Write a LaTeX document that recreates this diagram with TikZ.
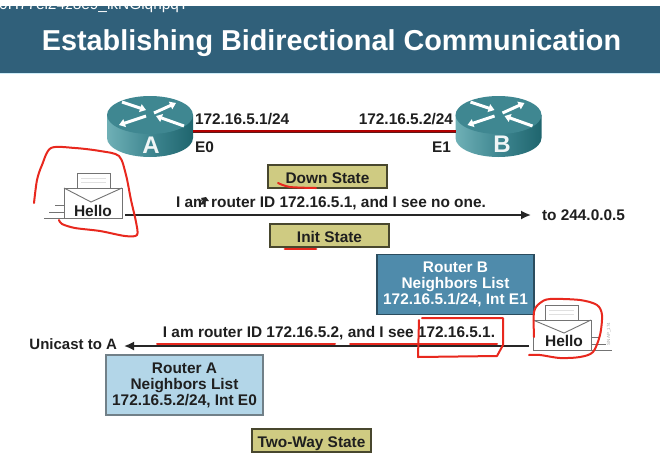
\documentclass[tikz,border=0pt]{standalone}
\usepackage{fontspec}
\setmainfont{Liberation Sans}
\usetikzlibrary{arrows.meta}
\definecolor{barblue}{HTML}{30607A}
\definecolor{stateol}{HTML}{CFCB82}
\definecolor{listdark}{HTML}{4F8BAB}
\definecolor{listlight}{HTML}{B3D6E8}
\definecolor{inkred}{HTML}{E8281E}
\definecolor{teal1}{HTML}{3F8791}
\definecolor{teal2}{HTML}{6FB0B6}
\definecolor{teal3}{HTML}{1F656E}
\newcommand{\routershape}[1]{%
  \begin{scope}[shift={(#1,115)}]
    \shade[left color=teal2,right color=teal3,middle color=teal1,draw=none]
      (-43,0) -- (-43,23) .. controls (-43,33.5) and (-23.7,42) .. (0,42) .. controls (23.7,42) and (43,33.5) .. (43,23) -- (43,0) -- cycle;
    \fill[teal1] (0,0) ellipse[x radius=43,y radius=19];
    \draw[rarrow] (-28,-13) -- (-4,-5);
    \draw[rarrow] (4,-2) -- (26,-12);
    \draw[rarrow] (-4,1) -- (-31,10);
    \draw[rarrow] (34,11) -- (6,1);
  \end{scope}}
\tikzset{
  x=1pt,y=-1pt,
  rarrow/.style={draw=white,line width=3pt,-{Triangle[length=6pt,width=8pt]}},
  txt/.style={font=\bfseries\fontsize{15.4}{17}\selectfont,inner sep=0pt,outer sep=0pt,text=black!88},
  routernode/.style={minimum width=86,minimum height=52,inner sep=0pt,outer sep=0pt},
  routerletter/.style={font=\bfseries\fontsize{24}{24}\selectfont,text=white!92!teal1,inner sep=0pt},
  statebox/.style={txt,draw=black!65!stateol,line width=1.1pt,fill=stateol,minimum width=119,minimum height=23,text height=13,text depth=0},
  listbox/.style={txt,align=center,line width=1.1pt,minimum width=157,minimum height=60,font=\bfseries\fontsize{15.4}{16}\selectfont},
  envbody/.style={draw=black!55,line width=.9pt,fill=white,minimum width=58,minimum height=30,inner sep=0pt,outer sep=0pt},
  envpart/.style={draw=black!55,line width=.9pt},
  paperline/.style={draw=black!12,line width=.5pt},
  hellotext/.style={txt,font=\bfseries\fontsize{15.5}{15}\selectfont},
  msg/.style={draw=black!85,line width=1.7pt,-{Latex[length=10pt,width=9pt]}},
  ink/.style={draw=inkred,line width=2pt,line cap=round,line join=round},
}
\begin{document}
\begin{tikzpicture}
\useasboundingbox (0,0) rectangle (669,472);
\fill[white] (0,0) rectangle (669,472);
% title bar
\fill[barblue] (0,6) rectangle (660,73);
\draw[black!10!cyan!20,line width=.8pt] (0,73.5) -- (660,73.5);
\begin{scope}
  \clip (0,0) rectangle (200,14);
  \node[anchor=base west,inner sep=0pt,text=white,font=\fontsize{15.4}{15}\selectfont] (clipline) at (-1,9) {0H77ei24z8e9\_ikNGlqnpqT};
\end{scope}
\node[inner sep=0pt,text=white,font=\bfseries\fontsize{28.8}{30}\selectfont] (title) at (331.5,43) {Establishing Bidirectional Communication};
% routers
\routershape{150}
\routershape{498.5}
\node[routernode] (ra) at (150,131) {};
\node[routernode] (rb) at (498.5,131) {};
\node[routerletter] (la) at (151,145) {A};
\node[routerletter] (lb) at (502,144) {B};
\draw[draw=black!70!red!90,line width=3pt] (ra.east) -- (rb.west);
\draw[draw=red!70!black,line width=1.1pt] (ra.east) -- (rb.west);
\node[txt,anchor=west] (ipa) at (195,119) {172.16.5.1/24};
\node[txt,anchor=east] (ipb) at (453,119) {172.16.5.2/24};
\node[txt,anchor=west] (e0) at (195,147) {E0};
\node[txt,anchor=east] (e1) at (451,147) {E1};
% state boxes
\node[statebox] (down) at (327.5,176.5) {Down State};
\node[statebox] (init) at (329.5,235.5) {Init State};
\node[statebox] (two) at (311.5,440.5) {Two-Way State};
% left envelope
\draw[envpart] (44,218) -- (64,218) (49,212) -- (64,212) (55,205) -- (64,205);
\draw[envpart,fill=white] (77,188) rectangle (110,173);
\draw[paperline] (81,178) -- (106,178) (81,182) -- (106,182);
\node[envbody] (env1) at (93,203) {};
\draw[envpart] (env1.north west) -- (91,202) -- (env1.north east);
\node[hellotext] (h1) at (93,211) {Hello};
% first message
\coordinate (out1) at (125,215);
\node[txt,anchor=west] (to) at (542,215) {to 244.0.0.5};
\draw[msg,shorten >=11pt] (out1) -- (to.west);
\node[txt] (m1) at (331,203) {I am router ID 172.16.5.1, and I see no one.};
\fill[black!85] (200,205) -- (203,200) -- (201,198) -- (206,197) -- (209,201) -- (206,201) -- (204,204) -- cycle;
% lists
\node[listbox,draw=black!45!listdark,fill=listdark,text=white] (listb) at (455.5,284.5) {Router B\\Neighbors List\\172.16.5.1/24, Int E1};
\node[listbox,draw=black!40!listlight!70!gray,fill=listlight] (lista) at (184.5,385) {Router A\\Neighbors List\\172.16.5.2/24, Int E0};
% right envelope
\draw[envpart] (591,337) -- (600,337) (591,344) -- (606,344) (591,350) -- (612,350);
\draw[envpart,fill=white] (545,320) rectangle (578,305);
\draw[paperline] (549,310) -- (574,310) (549,314) -- (574,314);
\node[envbody] (env2) at (562,335) {};
\draw[envpart] (env2.north west) -- (564,333) -- (env2.north east);
\node[hellotext] (h2) at (564,341) {Hello};
\node[inner sep=0pt,rotate=90,text=black!35,font=\fontsize{4.5}{5}\selectfont] (snap) at (609,334) {SNAP\_174};
% second message
\coordinate (out2) at (529,346);
\node[txt,anchor=east,font=\bfseries\fontsize{15}{17}\selectfont] (uni) at (117,344) {Unicast to A};
\draw[msg,shorten >=7pt] (out2) -- (out2 -| uni.east);
\node[txt] (m2) at (329,333) {I am router ID 172.16.5.2, and I see 172.16.5.1.};
% red annotations
\draw[ink] plot[smooth] coordinates {(34,203) (37,180) (42,165) (51,148) (75,148) (100,151) (119,156) (126,175) (131,200) (136,222) (137,235) (125,236) (100,231) (75,228) (62,224) (59,220)};
\draw[ink] plot[smooth] coordinates {(278,183) (290,187) (316,188)};
\draw[ink,line width=2.8pt] (285,249) -- (316,249);
\draw[ink] (157,344) -- (335,344);
\draw[ink] (350,343.6) -- (497,343.6);
\draw[ink] (422,318) -- (503,318) -- (503,345) -- (497,356) -- (418,357) -- (419,320);
\draw[ink] plot[smooth] coordinates {(534,337) (534,312) (540,303) (550,299) (580,300) (597,305) (602,315) (600,335) (593,352) (580,357) (560,358) (540,355) (529,355)};
\end{tikzpicture}
\end{document}
